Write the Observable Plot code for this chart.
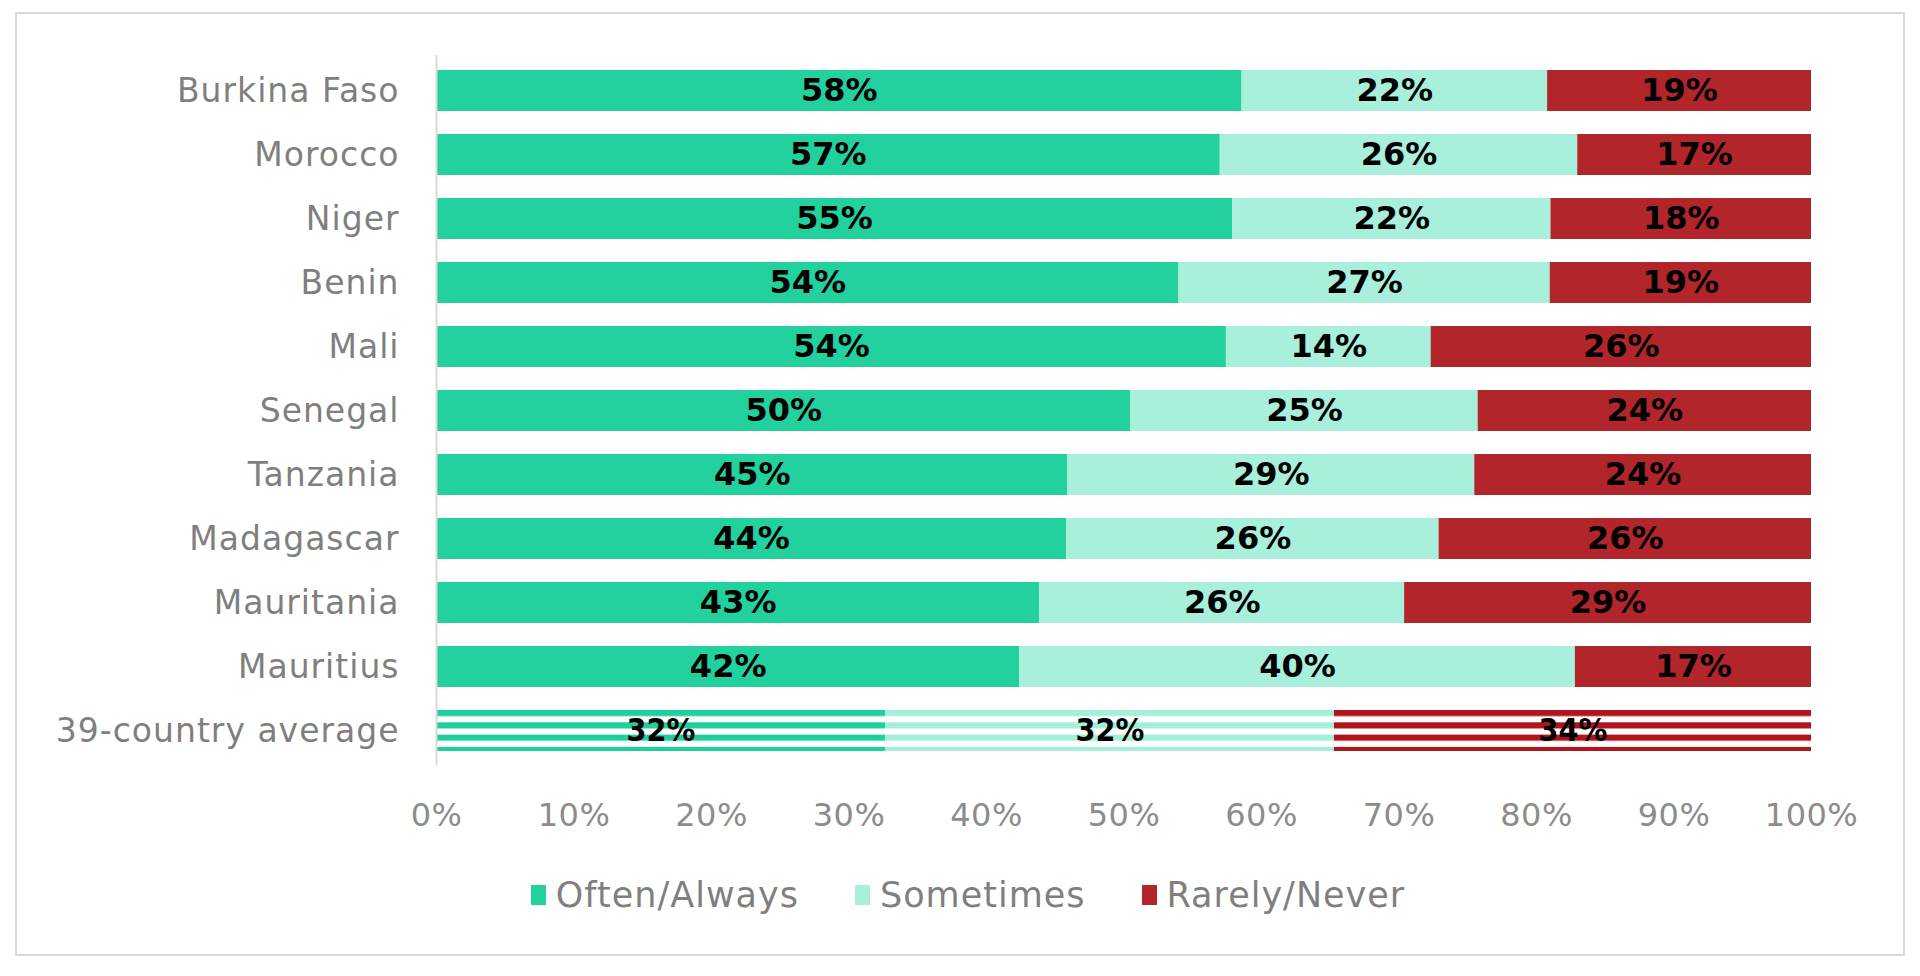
<!DOCTYPE html>
<html>
<head>
<meta charset="utf-8">
<script src="https://cdn.jsdelivr.net/npm/d3@7"></script>
<script src="https://cdn.jsdelivr.net/npm/@observablehq/plot@0.6"></script>
<style>
  html, body { margin: 0; padding: 0; background: #fff; }
  body { width: 1920px; height: 976px; position: relative; overflow: hidden; font-family: "DejaVu Sans", sans-serif; }
  #frame { position: absolute; left: 15px; top: 12px; width: 1890px; height: 944px; box-sizing: border-box; border: 2px solid #d9d9d9; }
  #chart { position: absolute; left: 0; top: 0; }
  #legend { position: absolute; left: 8px; top: 874px; width: 1920px; display: flex; justify-content: center; gap: 56px; font-size: 35px; letter-spacing: 1px; color: #7f7f7f; line-height: 42px; }
  #legend .item { display: flex; align-items: center; }
  #legend .sw { display: inline-block; width: 15px; height: 20px; margin-right: 10px; }
</style>
</head>
<body>
<svg width="0" height="0" style="position:absolute">
  <defs>
    <pattern id="pat-often" patternUnits="objectBoundingBox" patternContentUnits="objectBoundingBox" width="1" height="0.3">
      <rect x="0" y="0" width="1" height="0.15" fill="#1fcf9c"></rect>
    </pattern>
    <pattern id="pat-sometimes" patternUnits="objectBoundingBox" patternContentUnits="objectBoundingBox" width="1" height="0.3">
      <rect x="0" y="0" width="1" height="0.15" fill="#a3efd9"></rect>
    </pattern>
    <pattern id="pat-rarely" patternUnits="objectBoundingBox" patternContentUnits="objectBoundingBox" width="1" height="0.3">
      <rect x="0" y="0" width="1" height="0.15" fill="#b0141c"></rect>
    </pattern>
  </defs>
</svg>
<div id="frame"></div>
<div id="chart"></div>
<div id="legend"></div>
<script>
// ---- Data ----
const countries = ["Burkina Faso", "Morocco", "Niger", "Benin", "Mali", "Senegal", "Tanzania", "Madagascar", "Mauritania", "Mauritius", "39-country average"];
const often     = [58, 57, 55, 54, 54, 50, 45, 44, 43, 42, 32];
const sometimes = [22, 26, 22, 27, 14, 25, 29, 26, 26, 40, 32];
const rarely    = [19, 17, 18, 19, 26, 24, 24, 26, 29, 17, 34];
const seriesNames = ["Often/Always", "Sometimes", "Rarely/Never"];
const averageLabel = "39-country average";
const xTicks = [0, 0.1, 0.2, 0.3, 0.4, 0.5, 0.6, 0.7, 0.8, 0.9, 1];

// ---- Styles ----
const seriesColors = ["#23d19f", "#a8f0dc", "#b2252b"];
const seriesPatterns = ["url(#pat-often)", "url(#pat-sometimes)", "url(#pat-rarely)"];

const valuesBySeries = [often, sometimes, rarely];
const rows = [];
countries.forEach((c, i) => {
  seriesNames.forEach((s, j) => {
    const isAvg = c === averageLabel;
    rows.push({country: c, series: s, value: valuesBySeries[j][i], avg: isAvg, key: isAvg ? s + " (avg)" : s});
  });
});

const colorDomain = [...seriesNames, ...seriesNames.map(s => s + " (avg)")];
const colorRange = [...seriesColors, ...seriesPatterns];

const stackOpts = (extra) => Plot.stackX({x: "value", y: "country", z: "series", offset: "normalize", ...extra});

const plot = Plot.plot({
  width: 1920,
  height: 850,
  marginLeft: 436,
  marginRight: 109,
  marginTop: 44,
  marginBottom: 73,
  style: {fontFamily: "DejaVu Sans, sans-serif", fontSize: "32px", background: "transparent", overflow: "visible"},
  x: {domain: [0, 1], label: null},
  y: {domain: countries, padding: 0.36, label: null},
  color: {type: "ordinal", domain: colorDomain, range: colorRange},
  marks: [
    Plot.barX(rows, stackOpts({fill: "key"})),
    Plot.ruleX([0], {stroke: "#d9d9d9", strokeWidth: 2, insetTop: 11, insetBottom: 12}),
    Plot.text(rows.filter(d => !d.avg), stackOpts({text: d => d.value + "%", fill: "#000", fontWeight: "bold", fontSize: 32})),
    Plot.text(rows.filter(d => d.avg), stackOpts({text: d => d.value + "%", fill: "#000", fontWeight: "bold", fontSize: 32, fontFamily: "DejaVu Sans Condensed, DejaVu Sans, sans-serif"})),
    Plot.axisX({ticks: xTicks, tickFormat: d3.format(".0%"), tickSize: 0, tickPadding: 26, color: "#8c8c8c", fontSize: 32, label: null}),
    Plot.axisY({tickSize: 0, tickPadding: 37, color: "#7f7f7f", fontSize: 33, label: null})
  ]
});
document.getElementById("chart").appendChild(plot);
d3.select(plot).selectAll('[aria-label="y-axis tick label"] text').style("letter-spacing", "1px");
d3.select(plot).selectAll('[aria-label="x-axis tick label"] text').style("letter-spacing", "0.5px");

// ---- Legend ----
const legend = document.getElementById("legend");
seriesNames.forEach((s, j) => {
  const item = document.createElement("div");
  item.className = "item";
  const sw = document.createElement("span");
  sw.className = "sw";
  sw.style.background = seriesColors[j];
  const t = document.createElement("span");
  t.textContent = s;
  item.appendChild(sw);
  item.appendChild(t);
  legend.appendChild(item);
});
</script>
</body>
</html>
